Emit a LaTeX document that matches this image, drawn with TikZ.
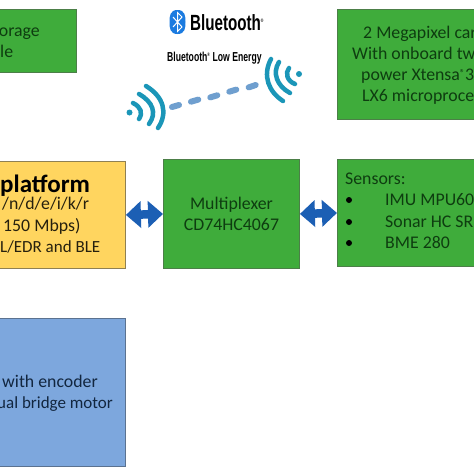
\documentclass[tikz,border=0pt]{standalone}
\usepackage{fontspec}
\setmainfont{Carlito}
\newfontfamily\btfont{Liberation Sans}
\usetikzlibrary{arrows.meta}
\definecolor{gfill}{HTML}{3FAC3B}
\definecolor{gline}{HTML}{4C7F48}
\definecolor{gtext}{HTML}{0E3D10}
\definecolor{yfill}{HTML}{FFD55F}
\definecolor{yline}{HTML}{8F8052}
\definecolor{bfill}{HTML}{7DA7DD}
\definecolor{bline}{HTML}{5B7290}
\definecolor{btext}{HTML}{12263F}
\definecolor{arrowblue}{HTML}{1C5FB4}
\definecolor{wave}{HTML}{1B96B8}
\definecolor{dashblue}{HTML}{6F9FCF}
\definecolor{btblue}{HTML}{1B7BE0}
\tikzset{
  x=1pt,y=-1pt,
  box/.style={draw,line width=0.9pt,inner sep=0pt,anchor=north west},
  greenbox/.style={box,fill=gfill,draw=gline},
  label/.style={inner sep=0pt,anchor=base,font=\fontsize{17.8}{21}\selectfont},
  gl/.style={label,text=gtext},
  yl/.style={label,text=black!85!yfill},
  bl/.style={label,text=btext},
  bothway/.style={draw=arrowblue,line width=8.5pt,{Triangle[length=15pt,width=26pt]}-{Triangle[length=15pt,width=26pt]}},
  arcline/.style={draw=wave,line width=4.5pt,line cap=round},
  radiodash/.style={draw=dashblue,line width=6pt,line cap=round}
}
\begin{document}
\begin{tikzpicture}
\useasboundingbox (0,0) rectangle (474,474);
\clip (0,0) rectangle (474,474);
\fill[white] (0,0) rectangle (474,474);
% boxes
\node[greenbox,minimum width=86pt,minimum height=63pt] (storage) at (-10,9) {};
\node[greenbox,minimum width=150pt,minimum height=110pt] (camera) at (337,9) {};
\node[box,fill=yfill,draw=yline,minimum width=135pt,minimum height=107pt] (platform) at (-10,161) {};
\node[greenbox,minimum width=136pt,minimum height=109pt,font=\fontsize{17.8}{21}\selectfont,text=gtext,align=center] (mux) at (163,159) {Multiplexer\\CD74HC4067};
\node[greenbox,minimum width=150pt,minimum height=107pt] (sensors) at (337,159) {};
\node[box,fill=bfill,draw=bline,minimum width=135pt,minimum height=148pt] (motor) at (-10,318) {};
% connectors
\draw[bothway] (platform.east) -- (mux.west);
\draw[bothway] (mux.east) -- (sensors.west);
% texts
\node[gl,anchor=base east] (t1) at (40,36) {orage};
\node[gl,anchor=base west] (t2) at (0,57) {le};
\node[gl,anchor=base west] (c1) at (363,38) {2 Megapixel car};
\node[gl,anchor=base west] (c2) at (352,59) {With onboard tw};
\node[gl,anchor=base west] (c3) at (361,80) {power Xtensa{\fontsize{10}{10}\selectfont\raisebox{4pt}{\textregistered}}3};
\node[gl,anchor=base west] (c4) at (362,101) {LX6 microproce};
\node[inner sep=0pt,anchor=base west,font=\bfseries\fontsize{25}{28}\selectfont,text=black] (p0) at (0,192) {platform};
\node[yl,anchor=base west] (p1) at (2,209) {/n/d/e/i/k/r};
\node[yl,anchor=base west] (p2) at (3,231) {150 Mbps)};
\node[yl,anchor=base west,font=\fontsize{17}{21}\selectfont] (p3) at (0,252) {L/EDR and BLE};
\node[gl,anchor=base west] (s0) at (345,184) {Sensors:};
\node[gl,anchor=base west] (s1) at (385,205) {IMU MPU60};
\node[gl,anchor=base west] (s2) at (385,227) {Sonar HC SR};
\node[gl,anchor=base west] (s3) at (385,248) {BME 280};
\node[inner sep=0pt,circle,fill=black,minimum size=6pt] (b1) at (349,200) {};
\node[inner sep=0pt,circle,fill=black,minimum size=6pt] (b2) at (349,222) {};
\node[inner sep=0pt,circle,fill=black,minimum size=6pt] (b3) at (349,243) {};
\node[bl,anchor=base west] (m1) at (2,387) {with encoder};
\node[bl,anchor=base west,font=\fontsize{17}{21}\selectfont] (m2) at (-3,408) {ual bridge motor};
% bluetooth logo
\fill[btblue] (177.5,10) .. controls (185,10) and (185.5,16) .. (185.5,22) .. controls (185.5,28) and (185,34) .. (177.5,34) .. controls (170,34) and (169.5,28) .. (169.5,22) .. controls (169.5,16) and (170,10) .. (177.5,10) -- cycle;
\draw[white,line width=1pt,line join=miter] (173,17) -- (182,27) -- (177.5,31.5) -- (177.5,12.5) -- (182,17) -- (173,27);
\node[inner sep=0pt,anchor=base west,font=\btfont\bfseries\fontsize{22}{24}\selectfont,xscale=0.69] (bt) at (190,30) {Bluetooth\textsuperscript{\tiny\textregistered}};
\node[inner sep=0pt,anchor=base west,font=\btfont\bfseries\fontsize{13}{14}\selectfont,xscale=0.665] (ble) at (167,61) {Bluetooth\textsuperscript{\tiny\textregistered} Low Energy};
% radio waves
\fill[wave] (129.5,112.5) circle (3pt);
\draw[arcline] (133,103) .. controls (141,107) and (143,113) .. (139,119);
\draw[arcline] (139,94) .. controls (153,102) and (157,113) .. (149,124);
\draw[arcline] (146,86) .. controls (164,97) and (168,113) .. (158,128);
\fill[wave] (299,74) circle (3pt);
\draw[arcline] (289,68) .. controls (285,73) and (287,81) .. (295,84);
\draw[arcline] (279,62) .. controls (272,73) and (277,86) .. (290,93);
\draw[arcline] (271,59) .. controls (262,76) and (269,92) .. (283,101);
\draw[radiodash] (172,107) -- (179,105);
\draw[radiodash] (191,101.7) -- (198.3,99.6);
\draw[radiodash] (210.3,97.4) -- (217.3,95.3);
\draw[radiodash] (229.3,91.7) -- (236.3,89.6);
\draw[radiodash] (248.7,87.4) -- (255.7,85);
\end{tikzpicture}
\end{document}
